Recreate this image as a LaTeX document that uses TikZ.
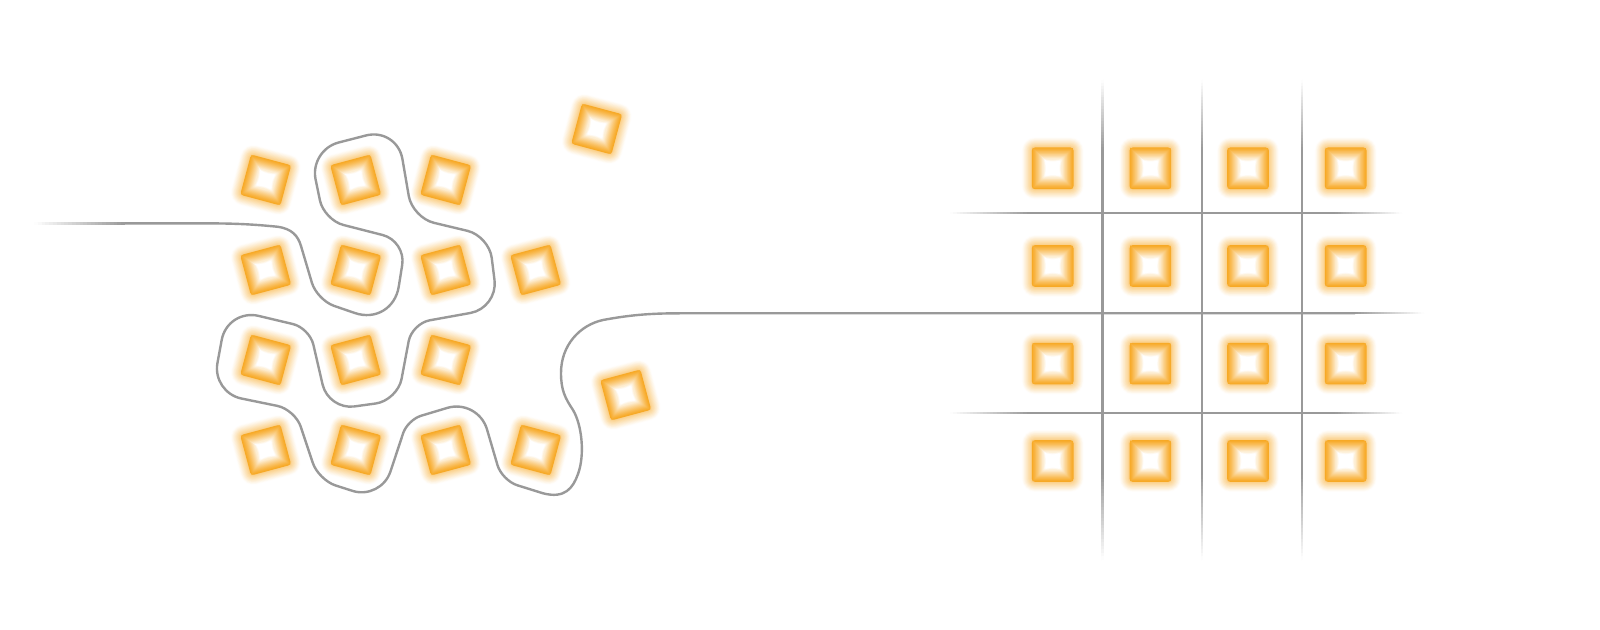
\documentclass[tikz,border=0pt]{standalone}
\definecolor{glowc}{HTML}{F7A61E}
\definecolor{linec}{HTML}{999999}
\tikzset{
  glowsq/.pic={
    \foreach \d in {10,9.3,...,0.2}{
      \pgfmathsetmacro{\rr}{20.8+\d}
      \pgfmathsetmacro{\pp}{56*(1-\d/10.4)^1.1}
      \pgfmathsetmacro{\rc}{(3+\d)*0.5}
      \fill[glowc!\pp!white,rounded corners=\rc pt] (-\rr,-\rr) rectangle (\rr,\rr);
    }
    \fill[glowc!97!white,rounded corners=1.5pt] (-20.8,-20.8) rectangle (20.8,20.8);
    \foreach \r in {20.2,19.6,...,7.6}{
      \pgfmathsetmacro{\uu}{min(1,max(0,(20.8-\r)/13))}
      \pgfmathsetmacro{\pp}{97*(1-\uu^1.2)}
      \pgfmathsetmacro{\bb}{\r-1.3*\uu}
      \pgfmathsetmacro{\cc}{0.35*\uu+0.2}
      \fill[glowc!\pp!white,rounded corners=\cc pt]
        (-\r,-\r) .. controls (0,-\bb) .. (\r,-\r)
        .. controls (\bb,0) .. (\r,\r)
        .. controls (0,\bb) .. (-\r,\r)
        .. controls (-\bb,0) .. cycle;
    }
  },
  wire/.style={draw=linec,line width=1.2pt,line join=round},
}
% fade from white at point 1 to line colour at point 2
\newcommand{\fadeseg}[4]{%
  \foreach \i in {1,...,24}{
    \pgfmathsetmacro{\pp}{100*(\i-0.5)/24}
    \draw[line width=1.2pt,linec!\pp!white]
      ({#1+(#3-#1)*(\i-1)/24},{#2+(#4-#2)*(\i-1)/24}) --
      ({#1+(#3-#1)*(\i+0.1)/24},{#2+(#4-#2)*(\i+0.1)/24});
  }}
\begin{document}
\begin{tikzpicture}[x=0.5pt,y=-0.5pt]
\useasboundingbox (0,0) rectangle (1600,630);
\fill[white] (0,0) rectangle (1600,630);
% left scattered squares
\foreach \x/\y/\a in {
  265.7/180/-15, 355.7/180/15, 445.7/180/-15,
  265.7/270/15, 355.7/270/-15, 445.7/270/15, 535.7/270/15,
  265.7/360/-15, 355.7/360/15, 445.7/360/-15,
  265.7/450/15, 355.7/450/-15, 445.7/450/15, 535.7/450/-15,
  596.7/129/-15, 625.7/395/15}{
  \pic[rotate=\a] at (\x,\y) {glowsq};
}
% right grid squares
\foreach \x in {1052.7,1150.4,1248,1345.7}
  \foreach \y in {168.3,266,363.6,461}
    \pic at (\x,\y) {glowsq};
% vertical grid lines
\foreach \x in {1102.3,1202,1302}{
  \fadeseg{\x}{80}{\x}{150}
  \draw[wire] (\x,150) -- (\x,475);
  \fadeseg{\x}{560}{\x}{475}
}
% horizontal grid lines
\foreach \y in {213.3,413.3}{
  \fadeseg{950}{\y}{1030}{\y}
  \draw[wire] (1030,\y) -- (1335,\y);
  \fadeseg{1402}{\y}{1335}{\y}
}
\fadeseg{1424}{313.3}{1355}{313.3}
% separating curve
\fadeseg{34}{223.4}{125}{223.4}
\draw[wire] (125,223.4) -- (210,223.4)
  .. controls (240,223.4) and (260,225) .. (277,226.7)
  .. controls (292,228.5) and (298,236) .. (301,246)
  [rounded corners=9pt] -- (317,300)
  [rounded corners=20pt] -- (392.5,326)
  [rounded corners=12pt] -- (406,241)
  [rounded corners=10pt] -- (324,220)
  [rounded corners=15pt] -- (309.5,150)
  [rounded corners=16pt] -- (397,127.5)
  [rounded corners=11pt] -- (412.5,217.7)
  [rounded corners=11pt] -- (489,236)
  [rounded corners=14pt] -- (498,308)
  [rounded corners=9pt] -- (412,323.5)
  [rounded corners=11pt] -- (397.5,400.5)
  [rounded corners=13pt] -- (328.5,410)
  [rounded corners=8.5pt] -- (309.5,328)
  [rounded corners=16pt] -- (227.5,308.5)
  [rounded corners=15pt] -- (212,392.5)
  [rounded corners=9pt] -- (295,409.5)
  [rounded corners=9pt] -- (318.5,480)
  [rounded corners=15pt] -- (381,500)
  [rounded corners=7pt] -- (407.6,419.8)
  [rounded corners=16pt] -- (478,398.7)
  [rounded corners=8pt] -- (502,480.5)
  [sharp corners] -- (543,493.3)
  .. controls (565,499) and (573,488) .. (578,474)
  .. controls (585,455) and (582,425) .. (573,410)
  .. controls (565,398) and (561,390) .. (561,373)
  .. controls (561,345) and (580,325) .. (603,320)
  .. controls (630,315) and (650,313.3) .. (680,313.3)
  -- (1355,313.3);
\end{tikzpicture}
\end{document}
